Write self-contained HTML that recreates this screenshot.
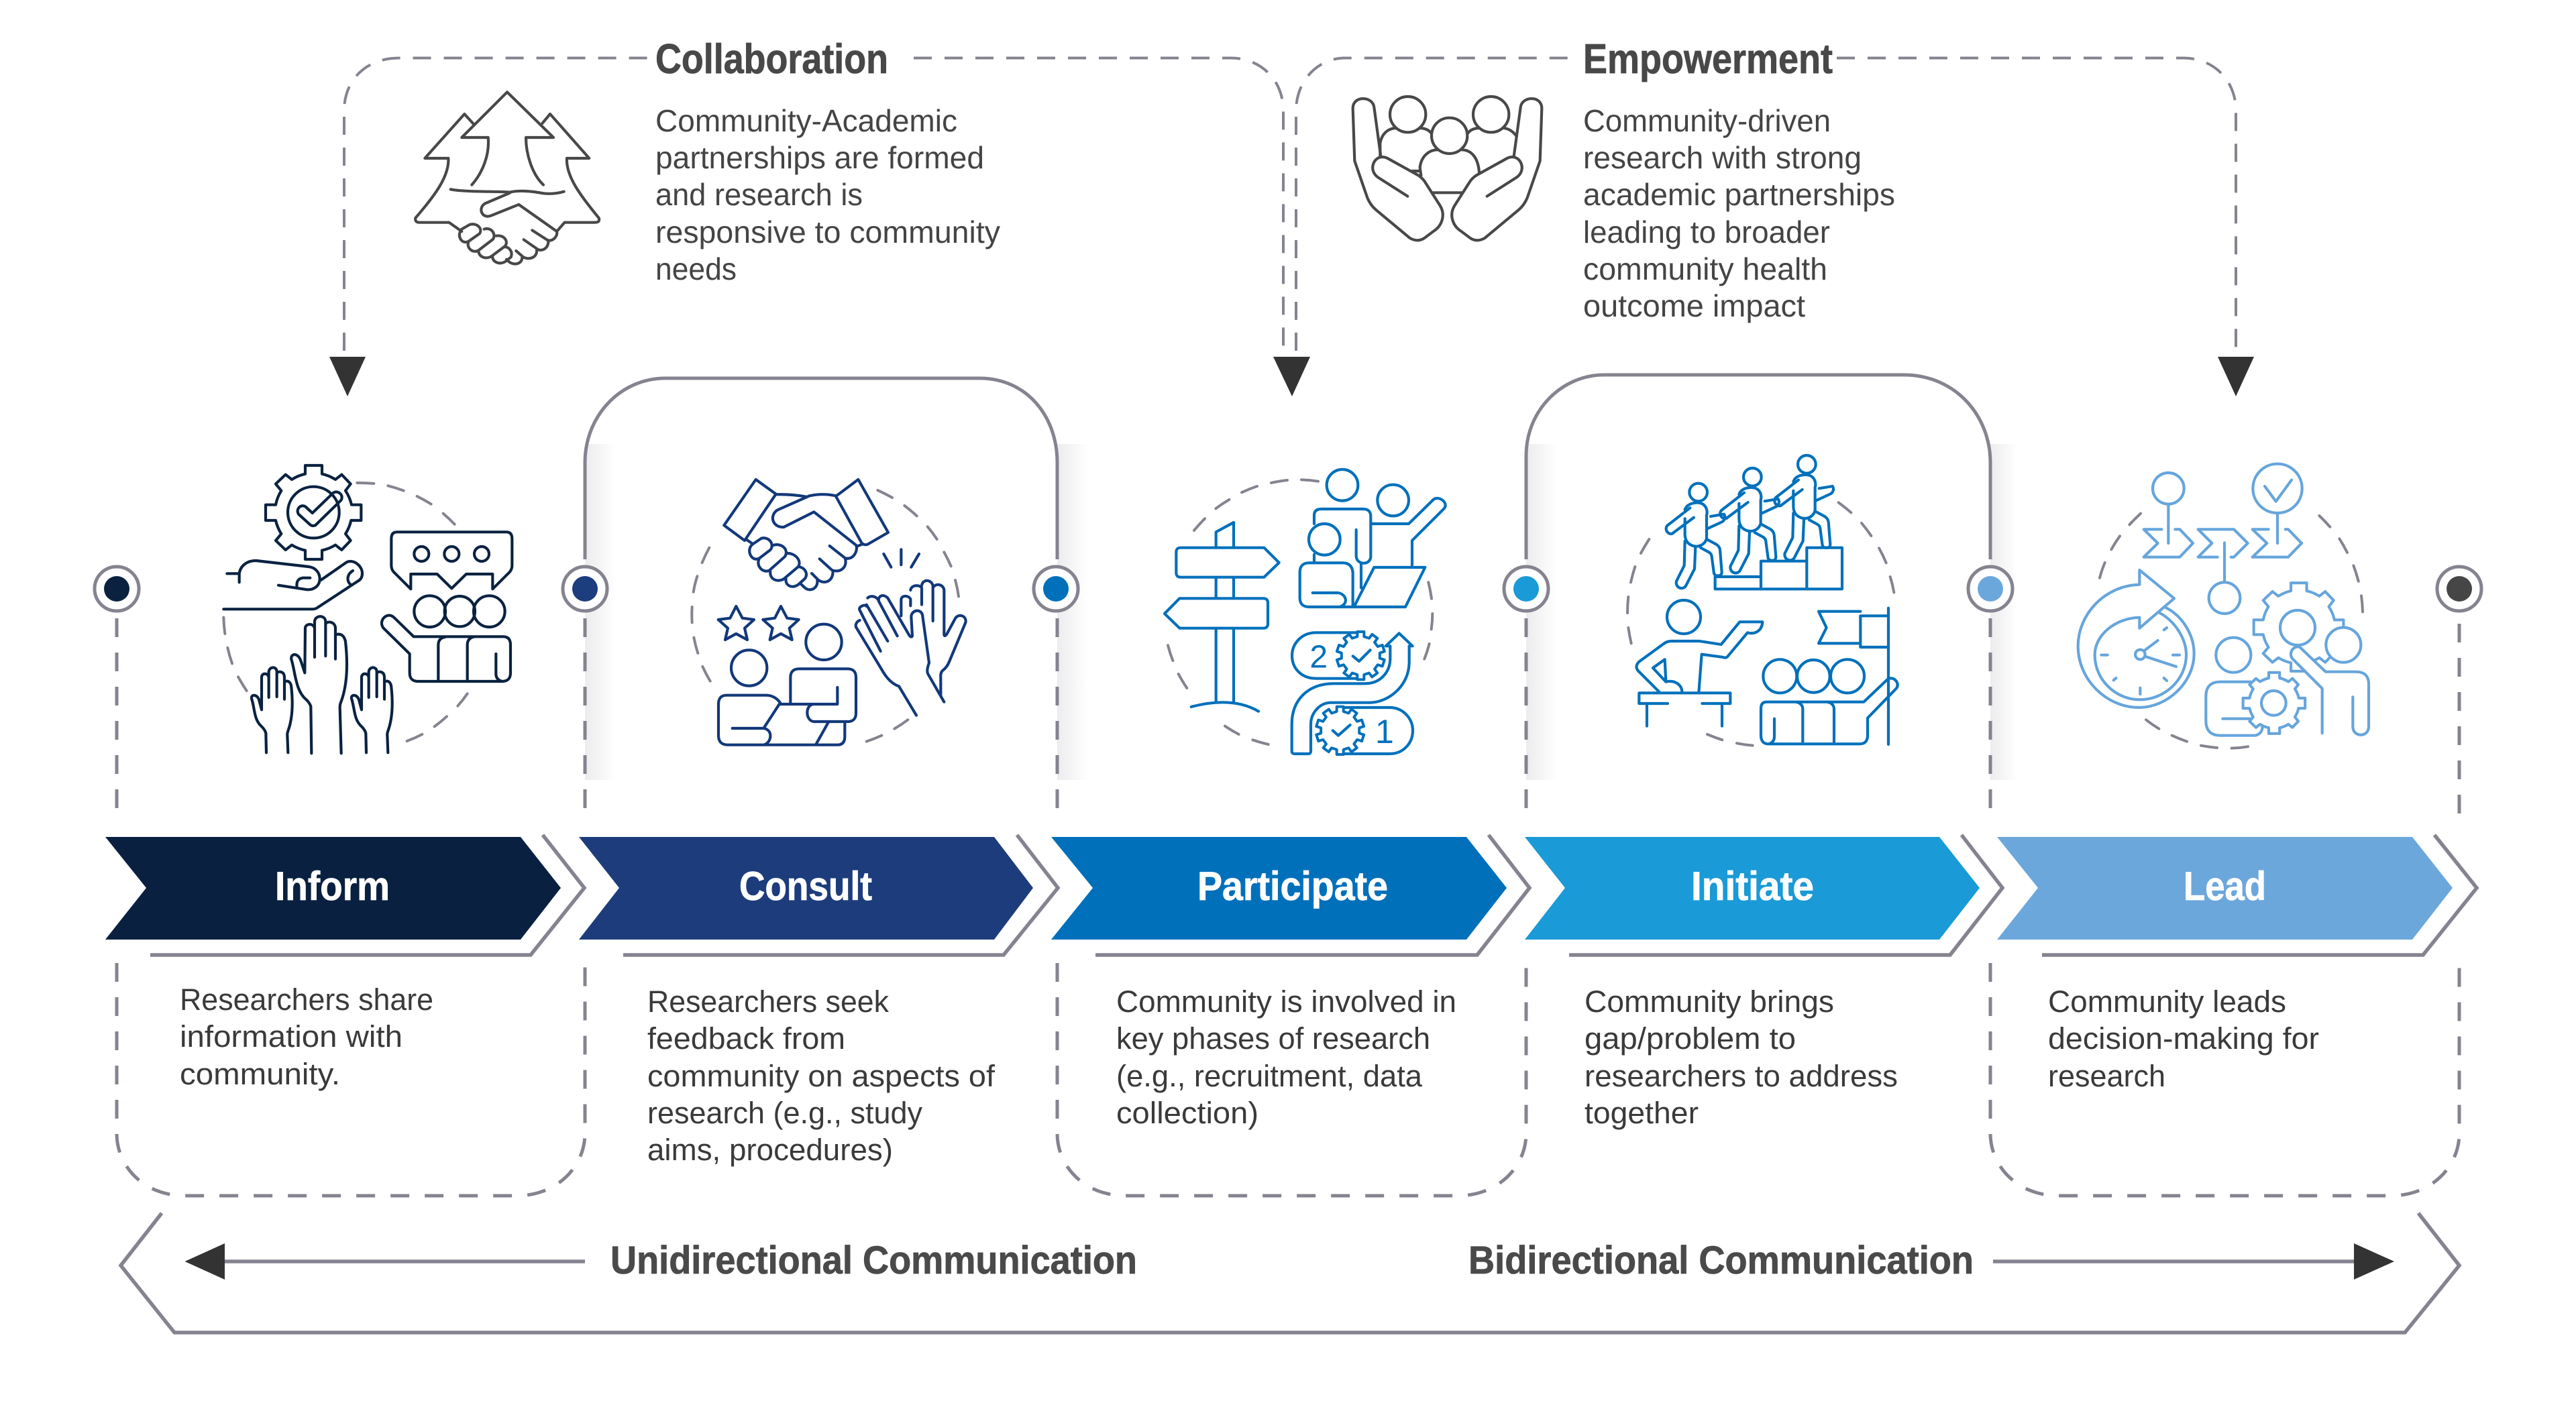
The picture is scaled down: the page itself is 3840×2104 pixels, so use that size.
<!DOCTYPE html>
<html lang="en"><head><meta charset="utf-8"><title>Community engagement continuum</title>
<style>
html,body{margin:0;padding:0;background:#fff}
svg{display:block}
text{font-family:"Liberation Sans",Arial,sans-serif}
.b{font-size:46px;fill:#444}
.d{font-size:45px;fill:#3a3a3a}
.h{font-size:62px;font-weight:700;fill:#484848;stroke:#484848;stroke-width:.8}
.l{font-size:60px;font-weight:700;fill:#fff;stroke:#fff;stroke-width:.8}
.c{font-size:58px;font-weight:700;fill:#4a4a4a;stroke:#4a4a4a;stroke-width:.8}
.ic{fill:none;stroke-width:12.5;stroke-linecap:round;stroke-linejoin:round}
.ds{fill:none;stroke:#85838f;stroke-width:12;stroke-linecap:round}
</style></head><body>
<svg xmlns="http://www.w3.org/2000/svg" width="3840" height="2104" viewBox="0 0 3840 2104">
<defs>
<linearGradient id="sl" x1="0" x2="1" y1="0" y2="0"><stop offset="0" stop-color="#ececee"/><stop offset="1" stop-color="#fff"/></linearGradient>
<path id="g8" d="M-37,-172V-210H38V-172A185,185 0 0 1 98,-147L126,-169L166,-127L143,-97A185,185 0 0 1 170,-34H213V36H168A185,185 0 0 1 143,96L166,126L126,168L98,146A185,185 0 0 1 38,170V210H-37V170A185,185 0 0 1 -97,146L-125,168L-169,126L-144,96A185,185 0 0 1 -169,36H-214V-34H-169A185,185 0 0 1 -144,-97L-169,-127L-125,-169L-97,-147A185,185 0 0 1 -37,-172Z"/>
<path id="g10" d="M-13.9,-78.8L-13.9,-99L13.9,-99L13.9,-78.8L35.1,-71.9L47,-88.3L69.5,-71.9L57.5,-55.6L70.6,-37.6L89.9,-43.8L98.5,-17.4L79.2,-11.1L79.2,11.1L98.5,17.4L89.9,43.8L70.6,37.6L57.5,55.6L69.5,71.9L47,88.3L35.1,71.9L13.9,78.8L13.9,99L-13.9,99L-13.9,78.8L-35.1,71.9L-47,88.3L-69.5,71.9L-57.5,55.6L-70.6,37.6L-89.9,43.8L-98.5,17.4L-79.2,11.1L-79.2,-11.1L-98.5,-17.4L-89.9,-43.8L-70.6,-37.6L-57.5,-55.6L-69.5,-71.9L-47,-88.3L-35.1,-71.9Z"/>
</defs>

<!-- soft side shadows -->
<rect x="872" y="662" width="46" height="501" fill="url(#sl)"/>
<rect x="1576" y="662" width="46" height="501" fill="url(#sl)"/>
<rect x="2275" y="662" width="46" height="501" fill="url(#sl)"/>
<rect x="2967" y="662" width="40" height="501" fill="url(#sl)"/>

<!-- top dashed frames -->
<g fill="none" stroke="#85838f" stroke-width="4" stroke-dasharray="27 19">
<path d="M513,523V165C513,120 545,86.5 595,86.5H967"/>
<path d="M1362,86.5H1835C1880,86.5 1913,120 1913,165V523"/>
<path d="M1932,523V165C1932,120 1965,86.5 2005,86.5H2348"/>
<path d="M2738,86.5H3255C3300,86.5 3333,120 3333,165V523"/>
</g>
<g fill="#333"><path d="M491,532H545L518,591Z"/><path d="M1898,532H1953L1926,591Z"/><path d="M3306,532H3360L3333,591Z"/></g>

<!-- arches -->
<g fill="none" stroke="#85838f" stroke-width="5">
<path d="M872,834V690C872,620 925,564 992,564H1460C1530,564 1576,620 1576,690V834"/>
<path d="M2275,834V680C2275,610 2330,559 2391,559H2838C2915,559 2967,620 2967,690V834"/>
</g>

<!-- dashed verticals, cups -->
<g fill="none" stroke="#85838f" stroke-width="5" stroke-dasharray="28 23">
<path d="M174,922V1214M872,922V1214M1576,922V1214M2275,922V1214M2967,922V1214M3666,930V1214"/>
<path d="M174,1436V1690C174,1740 215,1783 276,1783H770C830,1783 872,1740 872,1690V1436"/>
<path d="M1576,1436V1690C1576,1740 1617,1783 1678,1783H2173C2233,1783 2275,1740 2275,1690V1436"/>
<path d="M2967,1436V1690C2967,1740 3008,1783 3069,1783H3564C3624,1783 3666,1740 3666,1690V1436"/>
</g>

<!-- nodes -->
<g stroke="#85838f" stroke-width="5" fill="#fff">
<circle cx="174" cy="878" r="33"/><circle cx="872" cy="878" r="33"/><circle cx="1574" cy="878" r="33"/><circle cx="2275" cy="878" r="33"/><circle cx="2967" cy="878" r="33"/><circle cx="3666" cy="878" r="33"/>
</g>
<circle cx="174" cy="878" r="19" fill="#0a2240"/><circle cx="872" cy="878" r="19" fill="#1c3d7e"/><circle cx="1574" cy="878" r="19" fill="#0070bb"/><circle cx="2275" cy="878" r="19" fill="#1a9ad7"/><circle cx="2967" cy="878" r="19" fill="#6ca7dc"/><circle cx="3666" cy="878" r="19" fill="#464646"/>

<!-- chevrons -->
<path d="M157,1248H776L836,1324L776,1401H157L218,1324Z" fill="#0a2040"/>
<path d="M863,1248H1482L1540,1324L1482,1401H863L923,1324Z" fill="#1d3c7c"/>
<path d="M1567,1248H2186L2246,1324L2186,1401H1567L1629,1324Z" fill="#0070bb"/>
<path d="M2273,1248H2891L2951,1324L2891,1401H2273L2333,1324Z" fill="#1a9ad7"/>
<path d="M2977,1248H3596L3656,1324L3596,1401H2977L3038,1324Z" fill="#6ca7dc"/>
<g fill="none" stroke="#85838f" stroke-width="5.5">
<path d="M809,1245L871,1324L791,1424H224"/>
<path d="M1516,1245L1577,1324L1496,1424H929"/>
<path d="M2219,1245L2280,1324L2202,1424H1633"/>
<path d="M2924,1245L2985,1324L2907,1424H2339"/>
<path d="M3629,1245L3692,1324L3612,1424H3044"/>
<path d="M241,1809L180,1887L260,1987H3585L3666,1887L3605,1809"/>
<path d="M335,1881H872M2971,1881H3509"/>
</g>
<path d="M335,1854L275.5,1881L335,1908Z" fill="#333"/>
<path d="M3509,1854L3569,1881L3509,1908Z" fill="#333"/>

<!-- chevron labels -->
<text class="l" x="410" y="1342" textLength="171" lengthAdjust="spacingAndGlyphs">Inform</text>
<text class="l" x="1102" y="1342" textLength="198" lengthAdjust="spacingAndGlyphs">Consult</text>
<text class="l" x="1785" y="1342" textLength="284" lengthAdjust="spacingAndGlyphs">Participate</text>
<text class="l" x="2521" y="1342" textLength="183" lengthAdjust="spacingAndGlyphs">Initiate</text>
<text class="l" x="3255" y="1342" textLength="123" lengthAdjust="spacingAndGlyphs">Lead</text>

<!-- top text -->
<text class="h" x="977" y="109" textLength="347" lengthAdjust="spacingAndGlyphs">Collaboration</text>
<text class="h" x="2360" y="109" textLength="372" lengthAdjust="spacingAndGlyphs">Empowerment</text>
<g class="b">
<text x="977" y="196" textLength="450" lengthAdjust="spacingAndGlyphs">Community-Academic</text>
<text x="977" y="251" textLength="490" lengthAdjust="spacingAndGlyphs">partnerships are formed</text>
<text x="977" y="306" textLength="309" lengthAdjust="spacingAndGlyphs">and research is</text>
<text x="977" y="362" textLength="514" lengthAdjust="spacingAndGlyphs">responsive to community</text>
<text x="977" y="417" textLength="121" lengthAdjust="spacingAndGlyphs">needs</text>
<text x="2360" y="196" textLength="369" lengthAdjust="spacingAndGlyphs">Community-driven</text>
<text x="2360" y="251" textLength="415" lengthAdjust="spacingAndGlyphs">research with strong</text>
<text x="2360" y="306" textLength="465" lengthAdjust="spacingAndGlyphs">academic partnerships</text>
<text x="2360" y="362" textLength="368" lengthAdjust="spacingAndGlyphs">leading to broader</text>
<text x="2360" y="417" textLength="364" lengthAdjust="spacingAndGlyphs">community health</text>
<text x="2360" y="472" textLength="331" lengthAdjust="spacingAndGlyphs">outcome impact</text>
</g>

<!-- descriptions -->
<g class="d">
<text x="268" y="1506" textLength="378" lengthAdjust="spacingAndGlyphs">Researchers share</text>
<text x="268" y="1561" textLength="332" lengthAdjust="spacingAndGlyphs">information with</text>
<text x="268" y="1617" textLength="239" lengthAdjust="spacingAndGlyphs">community.</text>
<text x="965" y="1509" textLength="360" lengthAdjust="spacingAndGlyphs">Researchers seek</text>
<text x="965" y="1564" textLength="295" lengthAdjust="spacingAndGlyphs">feedback from</text>
<text x="965" y="1620" textLength="518" lengthAdjust="spacingAndGlyphs">community on aspects of</text>
<text x="965" y="1675" textLength="410" lengthAdjust="spacingAndGlyphs">research (e.g., study</text>
<text x="965" y="1730" textLength="366" lengthAdjust="spacingAndGlyphs">aims, procedures)</text>
<text x="1664" y="1509" textLength="507" lengthAdjust="spacingAndGlyphs">Community is involved in</text>
<text x="1664" y="1564" textLength="468" lengthAdjust="spacingAndGlyphs">key phases of research</text>
<text x="1664" y="1620" textLength="456" lengthAdjust="spacingAndGlyphs">(e.g., recruitment, data</text>
<text x="1664" y="1675" textLength="212" lengthAdjust="spacingAndGlyphs">collection)</text>
<text x="2362" y="1509" textLength="372" lengthAdjust="spacingAndGlyphs">Community brings</text>
<text x="2362" y="1564" textLength="315" lengthAdjust="spacingAndGlyphs">gap/problem to</text>
<text x="2362" y="1620" textLength="467" lengthAdjust="spacingAndGlyphs">researchers to address</text>
<text x="2362" y="1675" textLength="170" lengthAdjust="spacingAndGlyphs">together</text>
<text x="3053" y="1509" textLength="355" lengthAdjust="spacingAndGlyphs">Community leads</text>
<text x="3053" y="1564" textLength="404" lengthAdjust="spacingAndGlyphs">decision-making for</text>
<text x="3053" y="1620" textLength="175" lengthAdjust="spacingAndGlyphs">research</text>
</g>
<text class="c" x="910" y="1899" textLength="785" lengthAdjust="spacingAndGlyphs">Unidirectional Communication</text>
<text class="c" x="2189" y="1899" textLength="753" lengthAdjust="spacingAndGlyphs">Bidirectional Communication</text>

<!-- Collaboration icon -->
<g transform="translate(580 110) scale(.33333)" class="ic" stroke="#484848">
<path d="M325,285L528,82L735,285H612C612,360 640,450 690,497M325,285H443C450,360 420,440 370,497"/>
<path d="M378,225L337,180L160,378H265C270,460 200,550 118,645Q115,665 135,665H268L325,705"/>
<path d="M685,222L720,180L895,378H795C790,460 860,550 938,645Q945,665 920,665H785L750,705"/>
<path d="M275,517C340,530 480,525 540,530C580,520 640,525 690,535Q740,540 782,527"/>
<path d="M540,533L430,580C395,600 415,650 455,635L580,585L750,705C755,730 730,750 710,745L640,700M712,748C715,780 680,800 660,782L602,742M660,785C665,820 630,835 600,820L568,792M595,822C595,850 560,860 535,840L525,830"/>
<path d="M325,695L360,675C390,665 420,690 405,715L355,750C325,765 300,725 325,695M355,752C345,780 375,805 400,790L465,740C480,715 455,685 425,695M400,795C405,825 440,830 460,815L520,770C535,745 510,720 480,725M462,818C465,845 495,855 520,840L545,820C555,795 535,775 520,775"/>
</g>

<!-- Empowerment icon -->
<g transform="translate(1980 110) scale(.33333)" class="ic" stroke="#484848">
<circle cx="356" cy="182" r="80"/><circle cx="728" cy="182" r="80"/><circle cx="542" cy="277" r="80"/>
<path d="M235,370L205,150C200,100 110,95 110,155L118,390L175,555Q190,590 215,610L365,735Q400,755 430,735L470,705C510,680 525,630 500,590L430,480Q415,460 395,450L265,378C210,350 170,430 225,465L355,548"/>
<path d="M830,370L860,150C865,100 955,95 955,155L947,390L890,555Q875,590 850,610L700,735Q665,755 635,735L595,705C555,680 540,630 565,590L635,480Q650,460 670,450L800,378C855,350 895,430 840,465L710,548"/>
<path d="M232,370V310C240,265 270,245 300,243M412,243Q445,245 460,265M625,265Q640,245 672,243M785,243Q820,248 842,280M415,455L410,420C415,370 450,340 490,340M595,340C640,340 670,375 675,440M470,532H598M375,435H410"/>
</g>

<!-- Inform icon -->
<g transform="translate(300 670) scale(.33333)">
<path class="ds" d="M697,150Q735,150 772,153M835,163Q870,172 905,185M965,210Q997,226 1028,245M1082,287Q1108,310 1133,335M100,752Q101,790 106,825M118,888Q126,924 138,958M165,1018Q183,1050 203,1080M920,1305Q955,1292 988,1275M1043,1240Q1072,1219 1098,1195M1147,1148Q1170,1122 1190,1093"/>
<g class="ic" stroke="#0a2240">
<use href="#g8" transform="translate(502 282)"/>
<circle cx="502" cy="282" r="115"/>
<path d="M497,285L590,195C610,180 640,205 625,228L510,340Q498,345 488,338L435,290C420,265 450,240 470,260Z"/>
<path d="M115,556H170M170,595V556C175,520 205,498 245,498L480,525C515,530 530,555 530,580C530,610 505,628 475,628L345,608M487,575H455C430,578 425,595 428,620M535,585L650,505C680,490 720,520 720,555C720,575 710,585 700,590L520,708Q512,714 500,715H100M678,543C650,560 650,590 668,605"/>
<path d="M875,370H1365Q1390,370 1390,400V520Q1390,535 1380,548L1303,625V558H1185L1120,622L1055,558H937V625L860,548Q850,535 850,520V400Q850,370 875,370Z"/>
<circle cx="985" cy="468" r="33"/><circle cx="1120" cy="468" r="33"/><circle cx="1254" cy="468" r="33"/>
<circle cx="1022" cy="725" r="70"/><circle cx="1156" cy="725" r="68"/><circle cx="1288" cy="725" r="70"/>
<path d="M950,838H1350Q1383,838 1383,875V1000Q1383,1038 1345,1038H970Q932,1038 932,1000V915L815,800C795,775 815,740 845,743Q855,745 865,755L950,838M1060,1038V875Q1060,845 1090,840M1190,1038V875Q1190,842 1225,838M1318,915V1005Q1318,1030 1345,1038"/>
<path d="M493,1360L490,1150Q485,1135 470,1120C420,1080 420,990 403,940C398,915 430,905 445,945L463,1000L465,800C465,780 500,775 507,800V930M507,800V770C510,740 555,740 556,770V925M556,780C570,765 600,775 600,800V938M600,830C625,820 640,835 645,860C655,950 655,1050 625,1130Q620,1140 620,1155L626,1360"/>
<g id="smallhand"><path d="M291,1357L289,1270Q285,1255 270,1240C235,1210 240,1160 225,1115C222,1095 250,1095 258,1120L270,1165V1020C270,1000 298,998 302,1020V1110M302,1020V995C305,970 338,970 338,995V1107M338,1000C350,990 372,995 372,1020V1118M372,1040C390,1030 402,1045 403,1065C410,1130 410,1200 388,1260Q384,1270 385,1280L388,1357"/></g>
<use href="#smallhand" transform="translate(447 0)"/>
</g></g>

<!-- Consult icon -->
<g transform="translate(1000 680) scale(.33333)">
<path class="ds" d="M925,153Q958,168 990,186M1045,222Q1074,244 1100,268M1148,316Q1171,343 1190,372M1222,430Q1239,461 1253,493M1272,555Q1282,591 1287,628M172,410Q154,443 140,477M118,538Q107,572 101,608M95,675Q93,710 95,745M103,812Q110,848 121,882M142,942Q157,975 176,1007M875,1277Q910,1265 943,1250M1000,1220Q1031,1202 1060,1180"/>
<g class="ic" stroke="#12387a">
<path d="M380,105L470,170L330,378L238,310Z"/><path d="M838,105L972,342L880,395Q870,400 855,392L738,180Z"/>
<path d="M470,172Q540,170 605,182"/>
<path d="M738,178Q680,165 620,178L480,240C440,260 450,320 505,318L640,250L830,400C835,430 815,465 780,457L710,402M780,460C790,500 755,525 720,510L665,460M725,515C725,560 690,575 660,555L630,525M655,555C660,590 625,610 600,590L582,573M830,405L860,393M340,375L365,392"/>
<path d="M365,395L405,368C440,360 465,395 445,420L395,458C360,475 335,420 365,395M395,460C380,490 410,525 440,512L510,450C530,420 495,385 455,400M445,515C440,555 480,565 505,550L570,495C585,470 560,435 520,435M515,550C510,580 545,595 570,575L600,548C615,525 600,500 572,495"/>
<path d="M292,672L320,725L372,732L330,770L342,822L292,795L243,822L255,770L212,732L265,725Z"/>
<path d="M492,672L520,725L572,732L530,770L542,822L492,795L443,822L455,770L412,732L465,725Z"/>
<circle cx="350" cy="948" r="80"/><circle cx="684" cy="832" r="80"/>
<path d="M490,1105Q465,1070 425,1070H250Q213,1070 213,1110V1250Q213,1292 255,1292H745Q778,1292 778,1255V1188M275,1218H415C460,1225 450,1285 415,1292M415,1218L485,1110H745V1035M535,1105V990Q535,952 575,952H790Q828,952 828,990V1150Q828,1188 790,1188H640C600,1185 600,1110 640,1110M705,1190L648,1292"/>
<path d="M952,438L985,497M1030,418V487M1110,438L1075,497"/>
<path d="M1030,715V640C1035,620 1065,625 1072,640V670M1072,600C1075,575 1115,575 1122,590V665M1122,580C1125,550 1165,550 1172,580V738M1172,590C1185,565 1220,575 1222,600V800Q1225,810 1235,795L1270,730C1285,700 1325,715 1318,745L1245,920Q1235,945 1215,960Q1205,970 1207,990V1070"/>
<path d="M1222,1100L1150,975Q1142,960 1155,925L1125,710C1115,680 1075,690 1075,720L1080,805Q1075,815 1065,800L970,635C950,615 925,625 930,650"/>
<path d="M930,650L1013,805M880,635C895,620 925,630 930,650M875,665L970,828M845,690L938,873M845,690C835,675 870,660 875,672M828,765L940,950Q975,1015 1020,1030L1098,1160M845,735C830,740 825,755 828,765"/>
</g></g>

<!-- Participate icon -->
<g transform="translate(1720 680) scale(.33333)">
<path class="ds" d="M735,113Q698,107 660,106M597,108Q561,112 525,120M462,135Q427,147 393,163M337,195Q306,213 277,235M228,280Q203,305 180,333M63,847Q72,882 85,915M110,975Q127,1007 148,1038M318,1208Q348,1228 380,1245M442,1270Q477,1282 512,1290M1228,565Q1237,601 1242,638M1246,705Q1246,740 1241,775M1232,840Q1223,875 1210,908"/>
<g class="ic" stroke="#0070bb">
<path d="M278,405V340L357,297V405M120,410H493L560,477L493,542H120Q100,542 100,522V430Q100,410 120,410ZM278,542V637M357,542V637M115,637H490Q510,637 510,657V750Q510,770 490,770H115L48,705ZM278,770V1100M357,770V1100M167,1122C270,1095 380,1090 468,1142"/>
<circle cx="843" cy="130" r="70"/><circle cx="1070" cy="198" r="70"/>
<path d="M717,303V265Q717,237 750,237H935Q970,237 970,270V450C968,490 905,490 905,445V330M970,303H1140L1250,195C1275,175 1320,210 1298,235L1155,378V498M985,498H1213L1125,675H895ZM717,440V478M927,480V590"/>
<circle cx="763" cy="373" r="70" fill="#fff"/>
<path d="M890,675V520Q885,478 845,478H695Q653,478 653,520V635Q653,675 695,675H895M710,612H825C865,620 870,665 830,675"/>
<path d="M1142,850V925C1140,1030 1050,1100 970,1103H790C740,1105 702,1150 702,1200V1320Q702,1332 690,1332H630Q617,1332 617,1320V1200C617,1090 690,1020 800,1018H945C1010,1018 1057,970 1057,905V850H1037L1097,793L1157,850H1142"/>
<path d="M940,790H725C660,790 618,840 618,893C618,950 660,995 725,995H940M850,1125H1055C1115,1125 1158,1175 1158,1228C1158,1285 1115,1332 1055,1332H830"/>
<use href="#g10" transform="translate(925 893) scale(1.08)" fill="#fff" stroke-width="11"/>
<use href="#g10" transform="translate(833 1228) scale(1.08)" fill="#fff" stroke-width="11"/>
<path d="M890,895L918,918L968,868M800,1228L825,1250L878,1203"/>
</g>
<text x="697" y="946" font-size="144" fill="#0070bb">2</text>
<text x="990" y="1284" font-size="150" fill="#0070bb">1</text>
</g>

<!-- Initiate icon -->
<g transform="translate(2420 660) scale(.33333)">
<path class="ds" d="M962,268Q991,289 1018,313M1065,360Q1088,387 1108,417M1143,472Q1161,504 1175,538M1193,600Q1204,635 1210,670M115,432Q95,463 78,495M52,555Q41,589 33,625M22,690Q18,726 18,762M22,828Q27,863 35,898M375,1305Q408,1319 442,1330M507,1345Q542,1352 578,1355"/>
<g class="ic" stroke="#0070bb">
<g id="climber">
<circle cx="335" cy="222" r="40"/>
<path d="M275,300C285,270 330,262 355,275C370,285 378,305 372,325V430C360,465 320,475 290,450Q275,435 275,410V340"/>
<path d="M298,292L195,372C180,395 210,420 225,402L315,335M390,330L450,320C460,335 450,350 440,355L375,385"/>
<path d="M275,440L272,550L237,620C230,650 270,665 282,635L318,565L322,470M345,470L385,492Q395,500 395,510L405,585C410,600 440,600 440,580L432,480Q430,465 415,455L372,432"/>
</g>
<use href="#climber" transform="translate(242 -68)"/>
<use href="#climber" transform="translate(485 -125)"/>
<path d="M410,655V600H615M615,655V530H815M820,655V470H978V655H410"/>
<circle cx="270" cy="780" r="75"/>
<path d="M160,1115L65,1020Q50,1000 70,980L180,900Q195,888 215,888H340L437,903L520,802H622C620,840 590,860 555,850L465,958Q458,965 445,960L350,947L337,1118M190,1070L185,970L132,1008L190,1070C230,1060 265,1085 262,1120M198,1167H70V1120H478V1167H352M105,1167V1268M441,1167V1268"/>
<path d="M1185,740V1350M1185,775H1060V915H1185M1060,755H873L908,828L873,898H1060"/>
<circle cx="700" cy="1045" r="75"/><circle cx="850" cy="1045" r="73"/><circle cx="1002" cy="1045" r="75"/>
<path d="M640,1160H1075L1180,1060C1205,1040 1240,1075 1220,1100L1092,1232V1310Q1092,1348 1055,1348H650Q615,1348 615,1310V1190Q615,1160 640,1160ZM675,1235V1315Q675,1340 650,1348M770,1160Q800,1165 802,1190V1348M910,1160Q940,1165 942,1190V1348"/>
</g></g>

<!-- Lead icon -->
<g transform="translate(3060 670) scale(.33333)">
<path class="ds" d="M393,287Q367,311 343,337M300,388Q279,417 262,448M233,507Q219,540 210,575M1192,297Q1217,321 1240,347M1282,400Q1301,430 1317,462M1345,520Q1358,555 1367,590M1380,655Q1385,691 1386,727M417,1210Q445,1232 475,1250M533,1280Q566,1295 600,1307M663,1325Q699,1332 735,1335M800,1337Q837,1336 873,1330"/>
<g class="ic" stroke="#66a5dc">
<circle cx="517" cy="175" r="70"/><circle cx="768" cy="665" r="70"/><circle cx="1005" cy="175" r="110"/>
<path d="M517,250V420M487,358H407L470,420L407,482H568L627,420L568,358H547M797,482H810L872,420L810,358H650L712,420L650,482H737M768,418V590M965,358H893L958,420L893,482H1053L1113,420L1053,358H1040M1005,290V420M948,165L998,233L1068,137"/>
<path d="M388,605C230,610 113,740 113,880C113,1030 240,1155 385,1155C515,1155 632,1040 632,915C632,830 580,745 505,708M388,605V540L543,667L388,800V752C280,755 188,830 188,920C188,1030 280,1120 390,1120C500,1120 597,1030 597,920C597,850 550,770 475,730"/>
<path d="M217,920H245M537,920H567M391,1067V1095M272,1033L283,1023M497,1023L510,1035M497,808L510,798M410,900L470,855M415,927L552,972"/>
<circle cx="391" cy="918" r="22"/>
<use href="#g8" transform="translate(1100 795) scale(.94)" stroke-width="13"/>
<circle cx="1095" cy="798" r="78" fill="#fff"/>
<circle cx="1300" cy="875" r="78" fill="#fff"/>
<circle cx="808" cy="920" r="78"/>
<path d="M885,1040H750Q685,1040 685,1105V1215Q685,1280 750,1280H905C945,1275 950,1215 910,1205H760"/>
<use href="#g8" transform="translate(990 1135) scale(.65)" fill="#fff" stroke-width="19"/>
<circle cx="988" cy="1135" r="55"/>
<path d="M1205,1270V1070L1075,940C1050,915 1075,875 1105,885L1220,995H1355Q1413,995 1413,1050V1240C1413,1290 1342,1290 1342,1240V1108" fill="#fff"/>
</g></g>
</svg>
</body></html>
